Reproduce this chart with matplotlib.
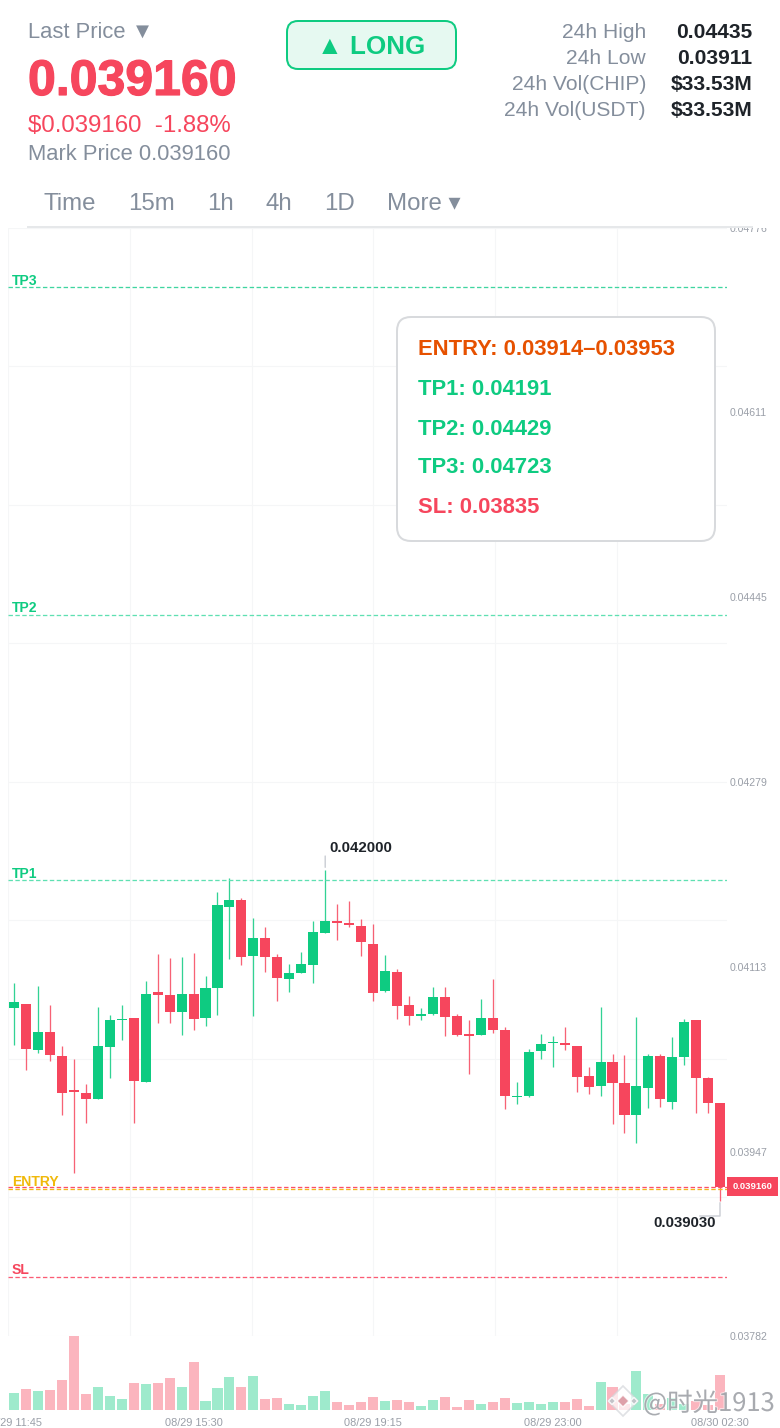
import matplotlib
matplotlib.use("Agg")
import matplotlib.pyplot as plt
import matplotlib.patheffects as pe
from matplotlib.patches import FancyBboxPatch, Polygon

plt.rcParams["font.family"] = ["Liberation Sans", "DejaVu Sans"]

# 15 minute candles
opens = [.040765, .040801, .040383, .040550, .040332, .040020, .040002, .039943, .040415, .040655,
         .040670, .040096, .040903, .040879, .040724, .040891, .040675, .040944, .041671, .041728,
         .041231, .041390, .041220, .041022, .041074, .041151, .041432, .041543, .041522, .041501,
         .041339, .040912, .041082, .040789, .040693, .040711, .040861, .040690, .040532, .040523,
         .040673, .040562, .039964, .039973, .040374, .040446, .040442, .040421, .040152, .040062,
         .040280, .040092, .039802, .040042, .040332, .039922, .040323, .040652, .040132, .039910]
closes = [.040813, .040394, .040550, .040343, .040002, .040011, .039943, .040421, .040652, .040659,
          .040105, .040891, .040882, .040724, .040891, .040664, .040942, .041689, .041728, .041222,
          .041390, .041222, .041034, .041079, .041160, .041441, .041543, .041525, .041510, .041352,
          .040894, .041091, .040783, .040693, .040711, .040861, .040684, .040523, .040514, .040673,
          .040565, .039973, .039973, .040370, .040439, .040451, .040433, .040143, .040054, .040280,
          .040092, .039802, .040062, .040332, .039943, .040320, .040639, .040132, .039913, .039160]
highs = [.040989, .040801, .040960, .040789, .040421, .040302, .040080, .040771, .040699, .040789,
         .040670, .041002, .041244, .041211, .041220, .041258, .041049, .041800, .041928, .041746,
         .041567, .041489, .041249, .041160, .041262, .041543, .042000, .041693, .041719, .041558,
         .041518, .041240, .041109, .040870, .040762, .040951, .040951, .040711, .040652, .040843,
         .041020, .040592, .040101, .040392, .040532, .040511, .040592, .040421, .040233, .040771,
         .040350, .040341, .040681, .040350, .040350, .040502, .040661, .040652, .040143, .039910]
lows = [.040433, .040206, .040356, .040284, .039805, .039285, .039733, .039943, .040134, .040475,
        .039733, .040096, .040625, .040625, .040523, .040565, .040603, .040702, .041205, .041151,
        .040693, .041082, .040822, .040903, .041074, .040984, .041432, .041375, .041492, .041231,
        .040822, .040906, .040664, .040612, .040652, .040702, .040514, .040514, .040173, .040523,
        .040535, .039853, .039901, .039964, .040302, .040233, .040383, .040011, .039993, .039973,
        .039724, .039644, .039554, .039862, .039874, .039853, .040254, .039823, .039823, .039030]
volumes = [51, 63, 58, 60, 90, 222, 47, 69, 43, 33,
           81, 78, 82, 95, 69, 144, 27, 65, 99, 68,
           103, 33, 36, 17, 15, 42, 57, 23, 14, 24,
           39, 27, 29, 24, 12, 30, 38, 9, 29, 18,
           24, 37, 21, 23, 17, 23, 23, 32, 12, 85,
           70, 17, 117, 47, 17, 37, 17, 27, 15, 105]

price_ticks = [.04776, .04611, .04445, .04279, .04113, .03947, .03782]
price_labels = ["0.04776", "0.04611", "0.04445", "0.04279", "0.04113", "0.03947", "0.03782"]
grid_prices = [.04776, .0465175, .045275, .0440325, .04279, .0415475, .040305, .0390625, .03782]
grid_times = [-0.5, 9.69, 19.88, 30, 40.2, 50.4]
time_ticks = [0, 15, 30, 45, 59]
time_labels = ["08/29 11:45", "08/29 15:30", "08/29 19:15", "08/29 23:00", "08/30 02:30"]

level_names = ["TP3", "TP2", "TP1", "ENTRY", "SL"]
level_prices = [.04723, .04429, .04191, .03914, .03835]
last_price = .03916

stat_names = ["24h High", "24h Low", "24h Vol(CHIP)", "24h Vol(USDT)"]
stat_values = ["0.04435", "0.03911", "$33.53M", "$33.53M"]
tab_names = ["Time", "15m", "1h", "4h", "1D", "More ▾"]
tab_x = [44, 128, 207, 266, 324, 387]
box_lines = ["ENTRY: 0.03914–0.03953", "TP1: 0.04191", "TP2: 0.04429", "TP3: 0.04723", "SL: 0.03835"]

GREEN = "#0ecb81"
RED = "#f6465d"
YELLOW = "#f0b90b"
GRAY = "#848e9c"
DARK = "#1e2329"
GRID = "#f5f6f7"
level_colors = ["#3fd5a0", "#5fe0b2", "#5fe0b2", "#f5b81a", "#fb5c74"]
label_colors = [GREEN, GREEN, GREEN, YELLOW, RED]
box_colors = ["#e65100", GREEN, GREEN, GREEN, RED]

W, H = 780, 1428
PX = 0.72  # pixels to points at dpi 100
DASH = (0, (3.4, 1.9))


def rect(x0, y0, x1, y1):
    return [x0 / W, 1 - y1 / H, (x1 - x0) / W, (y1 - y0) / H]


fig = plt.figure(figsize=(W / 100, H / 100), dpi=100, facecolor="white")

# Price panel
ax = fig.add_axes(rect(8, 228, 727, 1336))
xlim = (-0.501, 59.565)
ax.set_xlim(xlim)
ax.set_ylim(.03782, .04776)
for s in ax.spines.values():
    s.set_visible(False)
for p in grid_prices:
    ax.axhline(p, color=GRID, lw=1.1 * PX, zorder=0)
for t in grid_times:
    ax.axvline(t, color=GRID, lw=1.1 * PX, zorder=0)

xs = list(range(len(opens)))
colors = [GREEN if c >= o else RED for o, c in zip(opens, closes)]
ax.vlines(xs, lows, highs, colors=colors, lw=1.3 * PX, zorder=3, alpha=0.85)
ax.bar(xs, [max(abs(c - o), .000012) for o, c in zip(opens, closes)],
       bottom=[min(o, c) for o, c in zip(opens, closes)],
       width=0.84, color=colors, zorder=4)

for name, price, lc, tc in zip(level_names, level_prices, level_colors, label_colors):
    ax.axhline(price, color=lc, lw=1.3 * PX, ls=DASH, zorder=5)
    ax.annotate(name, xy=(0, price), xycoords=("axes fraction", "data"),
                xytext=(4 * PX, 2.5 * PX), textcoords="offset points",
                color=tc, fontsize=14 * PX, fontweight="bold", zorder=6)
ax.axhline(last_price, color="#fb4f68", lw=1.3 * PX, ls=DASH, zorder=5)

ax.yaxis.tick_right()
ax.set_yticks(price_ticks, price_labels)
ax.tick_params(axis="y", length=0, pad=2, labelsize=10.5 * PX, labelcolor="#9a9fa8")
ax.set_xticks([])

# High and low callouts
hi = highs.index(max(highs))
lo = lows.index(min(lows))
ax.annotate("", xy=(hi, highs[hi]), xytext=(0, 14 * PX), textcoords="offset points",
            arrowprops=dict(arrowstyle="-", color="#cdd0d6", lw=1.5 * PX, shrinkA=0, shrinkB=2))
ax.annotate("0.042000", xy=(hi, highs[hi]), xytext=(4 * PX, 18 * PX), textcoords="offset points",
            color=DARK, fontsize=15 * PX, fontweight="bold")
ax.plot([lo, lo, lo - 1.7], [lows[lo] - .000015, lows[lo] - .00013, lows[lo] - .00013],
        color="#cdd0d6", lw=1.5 * PX, zorder=5, clip_on=False)
ax.annotate("0.039030", xy=(lo, lows[lo]), xytext=(-4 * PX, -26 * PX), textcoords="offset points",
            color=DARK, fontsize=15 * PX, fontweight="bold", ha="right")

# Last price tag
ax.annotate("0.039160", xy=(1, last_price), xycoords=("axes fraction", "data"),
            xytext=(25.5 * PX, 0), textcoords="offset points", ha="center", va="center",
            color="white", fontsize=9.5 * PX, fontweight="bold", zorder=7,
            bbox=dict(boxstyle="square,pad=0.55", fc=RED, ec="none"))

# Volume panel
vax = fig.add_axes(rect(8, 1336, 727, 1410))
vax.set_xlim(xlim)
vax.set_ylim(0, max(volumes))
vax.bar(xs, volumes, width=0.84, color=colors, alpha=0.4)
for s in vax.spines.values():
    s.set_visible(False)
vax.set_yticks([])
vax.set_xticks(time_ticks, time_labels)
vax.tick_params(axis="x", length=0, pad=5.5, labelsize=11 * PX, labelcolor="#9a9fa8")
vax.patch.set_alpha(0)

# Header block sits over the top price label
head = fig.add_axes(rect(0, 0, W, 228), zorder=5)
head.set_xlim(0, W)
head.set_ylim(228, 0)
head.axis("off")
head.add_patch(plt.Rectangle((0, 0), W, 228, fc="white", ec="none"))
head.plot([28, 752], [227, 227], color="#e6e8ea", lw=2 * PX)

head.text(28, 38, "Last Price ▼", color=GRAY, fontsize=22 * PX)
head.text(28, 95, "0.039160", color=RED, fontsize=50 * PX, fontweight="bold",
          path_effects=[pe.withStroke(linewidth=1.2 * PX, foreground=RED)])
head.text(28, 132, "$0.039160  -1.88%", color=RED, fontsize=24 * PX)
head.text(28, 160, "Mark Price 0.039160", color=GRAY, fontsize=22 * PX)

head.add_patch(FancyBboxPatch((297, 31), 149, 28, boxstyle="round,pad=10,rounding_size=11",
                              fc="#e6f9f1", ec=GREEN, lw=2 * PX))
head.text(371, 54, "▲ LONG", color=GREEN, fontsize=26 * PX, fontweight="bold", ha="center")

for i, (n, v) in enumerate(zip(stat_names, stat_values)):
    y = 38 + i * 26
    head.text(646, y, n, color=GRAY, fontsize=21 * PX, ha="right")
    head.text(752, y, v, color=DARK, fontsize=21 * PX, fontweight="bold", ha="right")

for n, x in zip(tab_names, tab_x):
    head.text(x, 210, n, color=GRAY, fontsize=24 * PX)

# Overlay for the level box and watermark
ui = fig.add_axes(rect(0, 0, W, H), zorder=6)
ui.set_xlim(0, W)
ui.set_ylim(H, 0)
ui.axis("off")
ui.add_patch(FancyBboxPatch((409, 329), 294, 200, boxstyle="round,pad=12,rounding_size=14",
                            fc="white", ec="#d8dadd", lw=2 * PX))
for line, c, y in zip(box_lines, box_colors, [355, 395, 435, 473, 513]):
    ui.text(418, y, line, color=c, fontsize=22 * PX, fontweight="bold")

# Watermark
ui.add_patch(Polygon([(608, 1401), (623, 1386), (638, 1401), (623, 1416)],
                     fc="white", ec="#d4d6da", lw=1.2, alpha=0.7))
for cx, r in [(623, 6), (612, 3.5), (634, 3.5)]:
    ui.add_patch(Polygon([(cx - r, 1401), (cx, 1401 - r), (cx + r, 1401), (cx, 1401 + r)],
                         fc="#d98f9a" if r == 6 else "#b9bcc2", ec="white", lw=1, alpha=0.85))
ui.text(643, 1411, "@时光1913", color="#9a9da3", alpha=0.8, fontsize=25.5 * PX,
        family=["Noto Sans CJK SC", "DejaVu Sans"],
        path_effects=[pe.withStroke(linewidth=2 * PX, foreground="white", alpha=0.6)])

fig.savefig("out.png", dpi=100)
